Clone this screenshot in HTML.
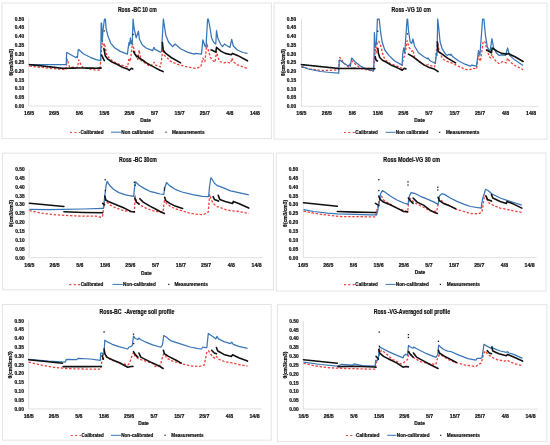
<!DOCTYPE html>
<html><head><meta charset="utf-8"><style>
html,body{margin:0;padding:0;background:#fff;width:550px;height:445px;overflow:hidden}
svg{display:block}
text{font-family:"Liberation Sans", sans-serif;font-weight:bold;fill:#111;stroke:#111;stroke-width:0.22px}
</style></head><body>
<svg width="550" height="445" viewBox="0 0 550 445">
<rect width="550" height="445" fill="#fff"/>
<rect x="2" y="3" width="269.4" height="135.6" fill="#fff" stroke="#e4e4e4" stroke-width="1"/>
<line x1="28.7" y1="18.7" x2="28.7" y2="106" stroke="#e0e0e0" stroke-width="1"/>
<line x1="28.7" y1="106" x2="262" y2="106" stroke="#e0e0e0" stroke-width="1"/>
<polyline points="29.4,66 40,67.3 50,68.3 60,69.2 66,69.7 66.8,62 67.4,59.3 69.5,67 75,67.6 77.5,67.5 78.8,60 81,65 83,67.6 90,69 96,70.3 100,70 101,55 102,43.3 103.5,46 104.5,43.3 106.8,55.4 112.2,60.8 120.3,64.9 127.7,66.9 129,58 130,61.5 131,56 132.4,43.3 135,52.5 137.8,59.5 139.1,50 141,60.5 149.9,66.2 153,64 154,62.2 155,64.9 160.4,66.9 161.5,60 163.1,47.4 164.4,55.4 167,57.5 169.8,60.8 174,62.8 179.3,64.9 187.4,66.9 195.4,68.3 200.8,66.9 202.9,58.1 204.9,61.5 206.9,43.3 208.2,50 210.3,56.8 211.7,59.5 215.1,62.2 216.5,51.4 217.8,56.8 219.8,61.5 223.9,62.9 226.5,62.2 230.6,62.9 232,58.1 233.3,61.5 237.4,64.9 246.8,68.3" fill="none" stroke="#f0413c" stroke-width="1.3" stroke-dasharray="2.4 1.7" stroke-linejoin="round"/>
<polyline points="29.4,64.6 45,64.7 66.2,64.6 66.6,52.7 67,52.5 70,54.3 75.7,57.5 76.6,56.6 77.4,57.6 78.2,49.7 78.6,49.5 83.3,53.8 90.2,57.3 96,59.6 100.7,60.6 101.2,23.1 101.6,23.1 102.3,42 103,30 104.5,19 105.4,19 106.1,28.5 108.1,36.6 110.8,43.3 114.9,48 120.3,51.4 127.4,54.1 128.1,48.7 129,42.6 129.6,45 130.4,37.9 130.9,43.3 131.7,40.6 132.2,44.7 133.1,19 134.1,28.5 136.2,37.9 138.4,31.2 139.5,39.3 142.2,44.7 146,48 152.6,50.7 154,47.3 155,49.4 160.4,52.1 161.5,51.5 162,42 163.4,19 164.4,25.8 165.8,35.2 168.5,42 172.5,46.7 175.2,44 176.5,45.3 180.6,48.7 187.4,52.1 194.1,54.1 195.5,53.4 201.5,54.1 202.9,39.9 204.9,46 206,47 207.6,19 208.3,19 209.6,25.5 211.6,37.9 213.8,42.6 215.8,44 216.5,30.5 217.8,37.9 220.5,44 222.5,46.7 224.5,44 226.5,45.5 230,47.4 231.7,39.3 233.3,46 237.4,50 242.8,52.5 247.5,53.4" fill="none" stroke="#3875b6" stroke-width="1.25" stroke-linejoin="round"/>
<polyline points="29.4,64.6 45,66.3 62.5,68.3 80,68 96,68.2 101.2,68.1" fill="none" stroke="#111" stroke-width="1.6" stroke-linejoin="round" stroke-linecap="round" stroke-dasharray="0.9 0.5"/>
<polyline points="101.6,55.2 104.3,60.6" fill="none" stroke="#111" stroke-width="1.6" stroke-linejoin="round" stroke-linecap="round"/>
<polyline points="103.9,48.5 104.6,52 105.2,55.7 107.5,58.8 112,62 118,64.7 123,67.6 127.4,68.9 129.4,70.3 131.4,68.3 132.8,68.9" fill="none" stroke="#111" stroke-width="1.6" stroke-linejoin="round" stroke-linecap="round"/>
<polyline points="133.5,51.4 134.8,54.1 136.8,56.8 137.8,56 139,58 143.2,60.5 146,62.6 149.9,64.9 155,67.6 160,70.3 163.1,71.6" fill="none" stroke="#111" stroke-width="1.6" stroke-linejoin="round" stroke-linecap="round"/>
<polyline points="162.4,42.6 163.1,50 165.8,53.4 171.2,57.5 180.6,62.9" fill="none" stroke="#111" stroke-width="1.6" stroke-linejoin="round" stroke-linecap="round"/>
<polyline points="211,50 211.7,50 215.8,52.1 216.5,47.4 221.2,51.4 225.2,53.4 231.3,54.8 232.6,53.4 237.4,55.4 247.5,60.8" fill="none" stroke="#111" stroke-width="1.6" stroke-linejoin="round" stroke-linecap="round"/>
<rect x="103.55" y="30.25" width="1.3" height="1.3" fill="#111"/>
<rect x="132.45" y="33.85" width="1.3" height="1.3" fill="#111"/>
<line x1="70" y1="132.4" x2="80" y2="132.4" stroke="#f0413c" stroke-width="1.05" stroke-dasharray="2 2.4"/>
<line x1="111" y1="132.2" x2="121" y2="132.2" stroke="#3875b6" stroke-width="1"/>
<rect x="165.4" y="131.6" width="1.2" height="1.2" fill="#111"/>
<rect x="274.1" y="3" width="273" height="136.1" fill="#fff" stroke="#e4e4e4" stroke-width="1"/>
<line x1="301.5" y1="18.7" x2="301.5" y2="106.3" stroke="#e0e0e0" stroke-width="1"/>
<line x1="301.5" y1="106.3" x2="538.4" y2="106.3" stroke="#e0e0e0" stroke-width="1"/>
<polyline points="301.4,67 310,68.8 320.7,70.4 330,70.3 338.7,69.7 339.5,58 339.8,57.3 344.2,63.5 348.4,67 351.8,60.7 355.3,64 360.8,68.3 369.1,70.4 373.2,71.1 374.5,60 375.1,46 376.1,53 377.4,42 378.8,41.3 380.8,46 382.8,54.1 384.8,59.5 390.2,63.5 397,66.2 401.7,68.2 403.4,58.1 404.8,55.5 407.1,40.6 409.1,47.3 411.8,51.4 412.9,50 414.5,56.8 418.5,61.5 423.9,64.9 428,64.9 430,65.5 434.7,66.9 437.4,41.3 438.8,48.7 440.8,55.4 443.5,59.5 447.5,61.5 450.2,62.2 454.3,64.2 459.6,66.9 466.4,69.6 470.4,69.6 472.5,68.2 476.5,68.9 478.5,55.4 480.5,61.5 483.2,41.3 485.3,42 486.6,48.7 489.3,56.8 490.8,58.1 491.9,54.1 493.5,58.1 496.2,61.5 498.9,63.5 502.9,61.5 506.3,62.9 507.6,58.1 509.6,61.5 515,65.5 523.1,69.6" fill="none" stroke="#f0413c" stroke-width="1.3" stroke-dasharray="2.4 1.7" stroke-linejoin="round"/>
<polyline points="301.4,66.3 308.3,69 320.7,71.5 330.4,72.5 338.7,73.2 339.2,60.5 339.8,60 344.2,63.5 348.4,66 349.2,65 350.4,66.3 351.5,58.5 351.8,58 355.3,62.1 360.8,66.3 366.3,69 373.2,70.8 373.8,70.3 374.4,32.5 375.4,47.3 376.5,42.5 377.4,19 379.2,19 380.5,31.2 382.1,42 384.8,50 388.9,55.4 394.3,60.8 402.1,65.1 402.7,54.1 403.7,48 404.7,53 407.1,19 407.6,19 408.4,29.8 410.2,42 411.8,43.3 412.9,39 414.5,46 418.5,52.7 423.9,56.8 427.3,58.8 428,57.9 430,60.8 435.4,63.5 436.5,52.7 437,55.4 437.7,19 438.8,28.5 440.1,42 442.1,48.7 445.5,54.1 447.5,55.4 448.9,54.1 450.2,55.4 450.9,54.1 452.9,56.8 458.3,60.8 465,64.2 470.4,66.2 471.8,65.1 476.5,66.2 478.5,50.7 479.9,55.4 482.6,19 483.9,19 485.4,35.2 487.4,47.3 490.1,51.4 491.9,38.6 493.5,47.3 496.2,52.7 498.9,55.4 501.6,54.8 505.6,55.4 507.6,48 509.6,55.4 515,60.1 523.1,65.5" fill="none" stroke="#3875b6" stroke-width="1.25" stroke-linejoin="round"/>
<polyline points="301.4,64.6 338.7,68.5 355,68.4 375.2,68.7" fill="none" stroke="#111" stroke-width="1.6" stroke-linejoin="round" stroke-linecap="round" stroke-dasharray="0.9 0.5"/>
<polyline points="375.2,56.6 376,60 377.4,61" fill="none" stroke="#111" stroke-width="1.6" stroke-linejoin="round" stroke-linecap="round"/>
<polyline points="377.9,48.5 378.3,53 379.7,57.5 382.4,60.2 386,62 392,65.6 397,67.6 402.3,70.3 404.4,68.2 406,69" fill="none" stroke="#111" stroke-width="1.6" stroke-linejoin="round" stroke-linecap="round"/>
<polyline points="408.4,54.1 413.1,56.8 418.5,60.8 423.9,64.9 429.3,67.6 434,68.9 438.1,71.6" fill="none" stroke="#111" stroke-width="1.6" stroke-linejoin="round" stroke-linecap="round"/>
<polyline points="437.4,42 438.1,51.4 442.1,54.1 447.5,58.1 455.6,62.9" fill="none" stroke="#111" stroke-width="1.6" stroke-linejoin="round" stroke-linecap="round"/>
<polyline points="486.6,50 491.5,52.7 492.1,48 497.5,51.4 501.6,53.4 507,54.1 508,53.6 515,56.8 523.1,61.5" fill="none" stroke="#111" stroke-width="1.6" stroke-linejoin="round" stroke-linecap="round"/>
<rect x="377.15" y="30.55" width="1.3" height="1.3" fill="#111"/>
<rect x="406.85" y="33.25" width="1.3" height="1.3" fill="#111"/>
<line x1="343.9" y1="132.5" x2="354.7" y2="132.5" stroke="#f0413c" stroke-width="1.05" stroke-dasharray="2 2.4"/>
<line x1="385.6" y1="132.3" x2="395.5" y2="132.3" stroke="#3875b6" stroke-width="1"/>
<rect x="439.1" y="131.7" width="1.2" height="1.2" fill="#111"/>
<rect x="2.5" y="153.2" width="270.9" height="136.6" fill="#fff" stroke="#e4e4e4" stroke-width="1"/>
<line x1="29.1" y1="169.2" x2="29.1" y2="257.6" stroke="#e0e0e0" stroke-width="1"/>
<line x1="29.1" y1="257.6" x2="262.7" y2="257.6" stroke="#e0e0e0" stroke-width="1"/>
<polyline points="29.4,210.7 41.8,213.2 55.6,214.8 69.5,215.6 83.3,216.2 96,216.2 101.2,217.3 102.5,216.5 104,205 105.2,197.3 106,201 109.5,204.8 116.2,208.1 123,210.4 129.7,211.5 134.4,211.9 135.1,196 136.5,201 140.5,205.4 145.9,208.1 152.6,210.6 160,212.2 163,212.2 164.4,200.7 166.5,203.4 169.8,206.1 175.2,208.8 182,210.8 188.7,212.8 195.4,214.2 203.5,214.6 208.2,212.2 209.7,194.6 211,198.5 213.1,203.4 217.1,206.8 218.5,206.8 225.2,209.5 232,210.8 238.7,211.5 248.8,213.5" fill="none" stroke="#f0413c" stroke-width="1.3" stroke-dasharray="2.4 1.7" stroke-linejoin="round"/>
<polyline points="29.4,209.3 48.7,209.6 62.5,209.4 83.3,209 102.6,208.4 103.4,208.4 104.8,196 106,186 107.1,181.4 109.5,185.2 113.5,189.3 118.9,192.6 125.6,194.9 133.7,196.3 134.5,188 135.4,181.8 139.1,185.2 144.5,188.6 149.9,191.3 155,192.6 160,194 163.8,194.4 164.7,188 166.5,182.5 169.8,185.9 175.2,189.3 182,192 192.7,194.6 202.2,196.3 208.6,196.7 209.5,187 210.8,177.8 212,179 214.4,183.2 217.8,185.9 219.8,186.3 225.2,188.6 230.6,190.9 238.7,192.6 248.8,194.9" fill="none" stroke="#3875b6" stroke-width="1.25" stroke-linejoin="round"/>
<polyline points="29.4,203.2 63.9,206.5" fill="none" stroke="#111" stroke-width="1.6" stroke-linejoin="round" stroke-linecap="round"/>
<polyline points="63.9,211.8 83.3,212.5 102.7,212.8" fill="none" stroke="#111" stroke-width="1.6" stroke-linejoin="round" stroke-linecap="round"/>
<polyline points="102.7,203.4 104.5,205" fill="none" stroke="#111" stroke-width="1.6" stroke-linejoin="round" stroke-linecap="round"/>
<polyline points="104.8,196 105.7,200 109.5,202.1 116.2,204.8 123,207.5 128.3,210.1 131,211.5 134.4,211.9" fill="none" stroke="#111" stroke-width="1.6" stroke-linejoin="round" stroke-linecap="round"/>
<polyline points="134.8,198 136.4,202.1 139.1,204.1" fill="none" stroke="#111" stroke-width="1.6" stroke-linejoin="round" stroke-linecap="round"/>
<polyline points="139.8,198.7 143.2,202.1 149.9,206.1 155,208.8 160,211.5 164.4,213.5" fill="none" stroke="#111" stroke-width="1.6" stroke-linejoin="round" stroke-linecap="round"/>
<polyline points="164.7,197.3 165.8,200.7 169.8,203.4 175.2,206.1 182.6,208.4" fill="none" stroke="#111" stroke-width="1.6" stroke-linejoin="round" stroke-linecap="round"/>
<polyline points="213.1,196.7 214.4,199.4 218.5,201.1" fill="none" stroke="#111" stroke-width="1.6" stroke-linejoin="round" stroke-linecap="round"/>
<polyline points="218.2,195.3 219.8,199.4 225.2,201.4 232.6,203.4 233.3,201.4 238.7,203.4 248.8,208.1" fill="none" stroke="#111" stroke-width="1.6" stroke-linejoin="round" stroke-linecap="round"/>
<rect x="104.55" y="179.15" width="1.3" height="1.3" fill="#111"/>
<rect x="104.75" y="189.95" width="1.3" height="1.3" fill="#111"/>
<rect x="133.75" y="181.65" width="1.3" height="1.3" fill="#111"/>
<rect x="134.45" y="184.55" width="1.3" height="1.3" fill="#111"/>
<rect x="163.85" y="187.35" width="1.3" height="1.3" fill="#111"/>
<rect x="163.85" y="189.35" width="1.3" height="1.3" fill="#111"/>
<line x1="69.3" y1="284.6" x2="80.1" y2="284.6" stroke="#f0413c" stroke-width="1.05" stroke-dasharray="2 2.4"/>
<line x1="112.5" y1="284.4" x2="122.8" y2="284.4" stroke="#3875b6" stroke-width="1"/>
<rect x="168.2" y="283.8" width="1.2" height="1.2" fill="#111"/>
<rect x="276.3" y="153" width="269.8" height="138" fill="#fff" stroke="#e4e4e4" stroke-width="1"/>
<line x1="303.3" y1="169.2" x2="303.3" y2="257.6" stroke="#e0e0e0" stroke-width="1"/>
<line x1="303.3" y1="257.6" x2="536.7" y2="257.6" stroke="#e0e0e0" stroke-width="1"/>
<polyline points="303.5,211.1 313.8,213.2 327.6,215.2 341.5,216.6 355.3,216.6 370,216.9 375.4,216.9 378.1,205.4 380.1,196.7 381.5,196 383.5,200 390.2,204.1 397,208.1 407.7,211.5 409.1,198 410.4,198.7 414.5,202.7 423.9,207.5 430,210.8 436.7,211.5 438.8,200.7 440.8,200 443.5,202.7 450.2,206.1 457,209.5 463.7,211.5 470.4,213.5 478.5,213.8 481.9,212.2 484.6,195.3 485.1,195.3 486.6,198.7 489.4,203.4 493.5,205.4 500.2,208.1 507,209.5 513.7,210.8 521.8,212.4" fill="none" stroke="#f0413c" stroke-width="1.3" stroke-dasharray="2.4 1.7" stroke-linejoin="round"/>
<polyline points="303.5,209.7 313.8,211.5 327.6,213.2 337.3,213.9 355.3,214.3 370,214.9 376.7,214.9 378.8,205.4 380.5,194 382.4,190.6 384.8,192 390.2,196 397,200 403.7,203 408,204.4 409.4,196 411.1,192.6 414.5,193.3 421.2,196.7 428,199.4 434,202.1 438.1,204.4 439.5,196 442.1,193.6 444.8,194.6 450.2,198 457,201.4 463.7,204.1 470.4,206.5 481.2,208.1 482.5,199 483.9,194.6 485.6,189.3 488,190.5 492.1,194 500.2,198 507,200.3 513.7,202.5 521.8,205.2" fill="none" stroke="#3875b6" stroke-width="1.25" stroke-linejoin="round"/>
<polyline points="303.5,202.8 337.3,206.3" fill="none" stroke="#111" stroke-width="1.6" stroke-linejoin="round" stroke-linecap="round"/>
<polyline points="337.3,211.5 355.3,212.1 374.6,212.5 376.1,212.4" fill="none" stroke="#111" stroke-width="1.6" stroke-linejoin="round" stroke-linecap="round"/>
<polyline points="375.4,203.4 378.8,205.4" fill="none" stroke="#111" stroke-width="1.6" stroke-linejoin="round" stroke-linecap="round"/>
<polyline points="378.8,196 380.1,199.4 383.5,202.1 390.2,204.8 397,208.1 403.7,211.5 407.7,211.9" fill="none" stroke="#111" stroke-width="1.6" stroke-linejoin="round" stroke-linecap="round"/>
<polyline points="408.4,198 410.4,200.7 413.1,203.4" fill="none" stroke="#111" stroke-width="1.6" stroke-linejoin="round" stroke-linecap="round"/>
<polyline points="413.1,198 417.2,202.1 423.9,205.4 430,210.1 434,212.2 437.4,213.5" fill="none" stroke="#111" stroke-width="1.6" stroke-linejoin="round" stroke-linecap="round"/>
<polyline points="438.1,197.3 439.4,200.7 443.5,203.4 450.2,206.1 455.6,208.8" fill="none" stroke="#111" stroke-width="1.6" stroke-linejoin="round" stroke-linecap="round"/>
<polyline points="486.1,196 487.4,199.4 491.5,201.1" fill="none" stroke="#111" stroke-width="1.6" stroke-linejoin="round" stroke-linecap="round"/>
<polyline points="491.5,194.6 492.8,198 500.2,201.4 506.3,203.4 507,201.4 513.7,204.1 521.8,208.1" fill="none" stroke="#111" stroke-width="1.6" stroke-linejoin="round" stroke-linecap="round"/>
<rect x="378.15" y="178.95" width="1.3" height="1.3" fill="#111"/>
<rect x="378.15" y="189.95" width="1.3" height="1.3" fill="#111"/>
<rect x="407.35" y="181.15" width="1.3" height="1.3" fill="#111"/>
<rect x="407.35" y="184.35" width="1.3" height="1.3" fill="#111"/>
<rect x="437.15" y="186.55" width="1.3" height="1.3" fill="#111"/>
<rect x="437.15" y="189.25" width="1.3" height="1.3" fill="#111"/>
<line x1="343.9" y1="284.6" x2="354.7" y2="284.6" stroke="#f0413c" stroke-width="1.05" stroke-dasharray="2 2.4"/>
<line x1="385.6" y1="284.4" x2="395.5" y2="284.4" stroke="#3875b6" stroke-width="1"/>
<rect x="439.8" y="283.8" width="1.2" height="1.2" fill="#111"/>
<rect x="2.5" y="304.5" width="268.7" height="135.7" fill="#fff" stroke="#e4e4e4" stroke-width="1"/>
<line x1="28.6" y1="320.6" x2="28.6" y2="408.9" stroke="#e0e0e0" stroke-width="1"/>
<line x1="28.6" y1="408.9" x2="261.6" y2="408.9" stroke="#e0e0e0" stroke-width="1"/>
<polyline points="28.7,362.1 41.8,365.2 55.6,367.6 69.5,368.7 83.3,369 96,369.2 100.7,369.2 102.1,360.4 104.1,351.7 106.1,355.7 109.5,359.1 116.2,361.8 123,363.8 127.7,365.1 129.7,363.1 132.4,354.4 133.7,352.3 135.1,356.4 139.1,359.1 147.2,361.8 152.6,363.1 155,366.5 160.4,365.1 163.1,355 164.4,353.7 167.1,358.4 172.5,361.1 182,363.8 190,365.8 199.5,366.5 204.2,365.1 206.9,351.7 208.4,350.7 210.4,353.7 213.1,357.1 215.1,358.4 216.5,356.4 218.5,359.1 225.2,361.8 232,362.9 238.7,364.5 247.5,366.1" fill="none" stroke="#f0413c" stroke-width="1.3" stroke-dasharray="2.4 1.7" stroke-linejoin="round"/>
<polyline points="28.7,359.3 48.7,361.1 65.3,362.1 66.4,359.3 76.4,359.7 78.4,358.3 90.2,359 100.3,360.4 100.7,353 102.5,353 103,355 104,353.7 104.8,340.2 106.8,341.6 112.2,344.3 118.9,346.7 127.7,349 129,347 131.3,346.3 132.4,345 133.5,336.2 135,338.2 137.8,339.5 138.9,338.2 140.5,339.5 145.9,342.2 152.6,344.9 160,347 161.1,347 162.4,345 163.8,335.5 165.8,336.8 171.2,340.9 176.6,342.6 182,344.3 190,347 198.1,348.6 201.5,349 202.8,347 205.5,347.6 206.8,347.6 208.3,333.5 209.7,334.5 213.1,336.8 215.8,338.9 216.9,336.4 218.5,338.9 223.9,341.6 230.6,343.6 231.7,342.2 233.3,344.3 238.7,346.3 247.5,348.3" fill="none" stroke="#3875b6" stroke-width="1.25" stroke-linejoin="round"/>
<polyline points="28.7,359.7 62.5,363.2" fill="none" stroke="#111" stroke-width="1.6" stroke-linejoin="round" stroke-linecap="round"/>
<polyline points="63.2,366.6 83.3,366.6 101.4,366.5" fill="none" stroke="#111" stroke-width="1.6" stroke-linejoin="round" stroke-linecap="round"/>
<polyline points="102.1,355.7 103.4,359.1" fill="none" stroke="#111" stroke-width="1.6" stroke-linejoin="round" stroke-linecap="round"/>
<polyline points="104.1,349 104.8,353.7 106.8,357.1 112.2,359.8 118.9,362.5 127.7,367.2 131,366.5 133,366.5" fill="none" stroke="#111" stroke-width="1.6" stroke-linejoin="round" stroke-linecap="round"/>
<polyline points="133.5,351.7 135.1,354.4 137.8,357.1" fill="none" stroke="#111" stroke-width="1.6" stroke-linejoin="round" stroke-linecap="round"/>
<polyline points="138.9,353 140.8,357.1 147.2,360.4 152.6,363.1 160,366.5 163.1,368.5" fill="none" stroke="#111" stroke-width="1.6" stroke-linejoin="round" stroke-linecap="round"/>
<polyline points="163.4,350.3 164.4,353.7 168.5,356.4 175.2,359.8 181.3,363.1" fill="none" stroke="#111" stroke-width="1.6" stroke-linejoin="round" stroke-linecap="round"/>
<polyline points="211.6,350.3 214.3,353 216.5,353.7" fill="none" stroke="#111" stroke-width="1.6" stroke-linejoin="round" stroke-linecap="round"/>
<polyline points="216.4,347.6 217.8,351 223.9,354.4 231.3,356.4 232.6,354.8 238.7,357.7 247.5,361.1" fill="none" stroke="#111" stroke-width="1.6" stroke-linejoin="round" stroke-linecap="round"/>
<rect x="103.45" y="331.25" width="1.3" height="1.3" fill="#111"/>
<rect x="132.85" y="333.55" width="1.3" height="1.3" fill="#111"/>
<rect x="133.05" y="342.95" width="1.3" height="1.3" fill="#111"/>
<line x1="70.8" y1="435.5" x2="81" y2="435.5" stroke="#f0413c" stroke-width="1.05" stroke-dasharray="2 2.4"/>
<line x1="111" y1="435.3" x2="120.9" y2="435.3" stroke="#3875b6" stroke-width="1"/>
<rect x="164.5" y="434.7" width="1.2" height="1.2" fill="#111"/>
<rect x="277.4" y="304.7" width="269.4" height="136.7" fill="#fff" stroke="#e4e4e4" stroke-width="1"/>
<line x1="303.3" y1="320.9" x2="303.3" y2="409.1" stroke="#e0e0e0" stroke-width="1"/>
<line x1="303.3" y1="409.1" x2="537.9" y2="409.1" stroke="#e0e0e0" stroke-width="1"/>
<polyline points="303.5,363.2 313.8,365.7 327.6,367.6 341.5,368.4 355.3,368.7 370,369.2 375.1,369.2 376.1,363.1 377.4,360.4 379.5,355.3 381.3,350.2 383.5,351.6 386.4,353.8 389.3,356.7 392.9,359.6 397.3,361.8 400.9,364 403.1,363.3 405.3,361.1 407.5,359.6 408.2,356 408.9,351.6 410.4,354.4 414.5,358.4 421.2,361.8 426.6,363.1 434,364.3 435.9,364.5 436.6,360.9 438.2,357 439.4,354.6 442.1,355.6 447.6,359.2 451.6,361.1 457.1,362.7 465,365.1 475.8,366.5 478.5,364.5 481.2,363.1 483.9,353 485.4,351 487.9,354.4 490.8,356.4 493.5,358.1 497.5,359.8 504.3,361.1 507.6,360.2 509.6,361.8 515,363.8 522.5,365.8" fill="none" stroke="#f0413c" stroke-width="1.3" stroke-dasharray="2.4 1.7" stroke-linejoin="round"/>
<polyline points="303.5,362.2 320.7,364.5 337.3,366.2 341.5,364.3 352.5,365.2 353.9,363.9 362.2,365.7 374.6,366.2 375.1,366.5 375.7,360.4 377.5,360.4 378.2,359 379.5,348 380.2,347.3 388.5,351.6 395.8,354.9 403.1,357.8 403.8,355.6 406,354.2 407.5,355.3 408.5,345.5 410.4,347 412.9,348.3 413.8,347 415.8,348.3 421.2,351 426.6,353.7 435.9,357.4 437.8,354.6 438.6,345.2 440,346.5 443.7,349.5 447.6,351.1 450.8,351.5 459.4,355.4 468,358.6 475.8,360.2 477.2,358.4 480.5,358.4 482,357.7 484,344.3 486,345.6 490.8,348.3 491.9,346.3 493.5,348.3 500.2,351 506.3,352.3 507.6,351.7 509,353 513.7,354.4 522.5,358.4" fill="none" stroke="#3875b6" stroke-width="1.25" stroke-linejoin="round"/>
<polyline points="303.5,359.7 337.3,363.2" fill="none" stroke="#111" stroke-width="1.6" stroke-linejoin="round" stroke-linecap="round"/>
<polyline points="338,366.6 355.3,366.2 374.6,367 376.1,367.2" fill="none" stroke="#111" stroke-width="1.6" stroke-linejoin="round" stroke-linecap="round"/>
<polyline points="376.1,356.4 378.4,359.1" fill="none" stroke="#111" stroke-width="1.6" stroke-linejoin="round" stroke-linecap="round"/>
<polyline points="378.8,349.6 379.7,353 383.5,356.4 390.2,359.8 397,363.1 403,367.2 405.7,366.5 408.4,366.9" fill="none" stroke="#111" stroke-width="1.6" stroke-linejoin="round" stroke-linecap="round"/>
<polyline points="408.4,351.7 410.4,354.4 413.1,357.1" fill="none" stroke="#111" stroke-width="1.6" stroke-linejoin="round" stroke-linecap="round"/>
<polyline points="413.4,353 416.5,357.1 423.9,361.1 430,364.5 434,366.5 438.1,368.5" fill="none" stroke="#111" stroke-width="1.6" stroke-linejoin="round" stroke-linecap="round"/>
<polyline points="438.4,350.3 439.4,353 443.5,355.7 450.2,359.1 456.3,362.5" fill="none" stroke="#111" stroke-width="1.6" stroke-linejoin="round" stroke-linecap="round"/>
<polyline points="487.3,350.7 489.3,353 491.5,353.7" fill="none" stroke="#111" stroke-width="1.6" stroke-linejoin="round" stroke-linecap="round"/>
<polyline points="491.9,347.6 492.8,351 498.9,353.7 506.3,355.7 507.6,354.4 513.7,357.1 522.5,361.1" fill="none" stroke="#111" stroke-width="1.6" stroke-linejoin="round" stroke-linecap="round"/>
<rect x="378.55" y="331.45" width="1.3" height="1.3" fill="#111"/>
<rect x="407.75" y="333.95" width="1.3" height="1.3" fill="#111"/>
<rect x="407.75" y="336.85" width="1.3" height="1.3" fill="#111"/>
<rect x="378.75" y="345.65" width="1.3" height="1.3" fill="#111"/>
<rect x="437.75" y="340.65" width="1.3" height="1.3" fill="#111"/>
<line x1="346" y1="435.5" x2="355.3" y2="435.5" stroke="#f0413c" stroke-width="1.05" stroke-dasharray="2 2.4"/>
<line x1="387.2" y1="435.3" x2="396.5" y2="435.3" stroke="#3875b6" stroke-width="1"/>
<rect x="440.1" y="434.7" width="1.2" height="1.2" fill="#111"/>
<g style="filter:grayscale(1)">
<text x="117.9" y="11.6" font-size="6.5" text-anchor="start" textLength="38.8" lengthAdjust="spacingAndGlyphs">Ross -BC 10 cm</text>
<text x="24.2" y="107.9" font-size="5.4" text-anchor="end" textLength="9.4" lengthAdjust="spacingAndGlyphs">0.00</text>
<text x="24.2" y="99.17" font-size="5.4" text-anchor="end" textLength="9.4" lengthAdjust="spacingAndGlyphs">0.05</text>
<text x="24.2" y="90.44" font-size="5.4" text-anchor="end" textLength="9.4" lengthAdjust="spacingAndGlyphs">0.10</text>
<text x="24.2" y="81.71" font-size="5.4" text-anchor="end" textLength="9.4" lengthAdjust="spacingAndGlyphs">0.15</text>
<text x="24.2" y="72.98" font-size="5.4" text-anchor="end" textLength="9.4" lengthAdjust="spacingAndGlyphs">0.20</text>
<text x="24.2" y="64.25" font-size="5.4" text-anchor="end" textLength="9.4" lengthAdjust="spacingAndGlyphs">0.25</text>
<text x="24.2" y="55.52" font-size="5.4" text-anchor="end" textLength="9.4" lengthAdjust="spacingAndGlyphs">0.30</text>
<text x="24.2" y="46.79" font-size="5.4" text-anchor="end" textLength="9.4" lengthAdjust="spacingAndGlyphs">0.35</text>
<text x="24.2" y="38.06" font-size="5.4" text-anchor="end" textLength="9.4" lengthAdjust="spacingAndGlyphs">0.40</text>
<text x="24.2" y="29.33" font-size="5.4" text-anchor="end" textLength="9.4" lengthAdjust="spacingAndGlyphs">0.45</text>
<text x="24.2" y="20.6" font-size="5.4" text-anchor="end" textLength="9.4" lengthAdjust="spacingAndGlyphs">0.50</text>
<text x="29.05" y="114.9" font-size="5.4" text-anchor="middle" textLength="10.1" lengthAdjust="spacingAndGlyphs">16/5</text>
<text x="54.15" y="114.9" font-size="5.4" text-anchor="middle" textLength="10.1" lengthAdjust="spacingAndGlyphs">26/5</text>
<text x="79.25" y="114.9" font-size="5.4" text-anchor="middle" textLength="7.2" lengthAdjust="spacingAndGlyphs">5/6</text>
<text x="104.35" y="114.9" font-size="5.4" text-anchor="middle" textLength="10.1" lengthAdjust="spacingAndGlyphs">15/6</text>
<text x="129.45" y="114.9" font-size="5.4" text-anchor="middle" textLength="10.1" lengthAdjust="spacingAndGlyphs">25/6</text>
<text x="154.55" y="114.9" font-size="5.4" text-anchor="middle" textLength="7.2" lengthAdjust="spacingAndGlyphs">5/7</text>
<text x="179.65" y="114.9" font-size="5.4" text-anchor="middle" textLength="10.1" lengthAdjust="spacingAndGlyphs">15/7</text>
<text x="204.75" y="114.9" font-size="5.4" text-anchor="middle" textLength="10.1" lengthAdjust="spacingAndGlyphs">25/7</text>
<text x="229.85" y="114.9" font-size="5.4" text-anchor="middle" textLength="7.2" lengthAdjust="spacingAndGlyphs">4/8</text>
<text x="254.95" y="114.9" font-size="5.4" text-anchor="middle" textLength="10.1" lengthAdjust="spacingAndGlyphs">14/8</text>
<text x="145.6" y="121.9" font-size="5.4" text-anchor="middle" textLength="10.6" lengthAdjust="spacingAndGlyphs">Date</text>
<text transform="translate(12.5 62.3) rotate(-90)" font-size="5.2" text-anchor="middle" textLength="27" lengthAdjust="spacingAndGlyphs">θ(cm3/cm3)</text>
<text x="80.6" y="133.8" font-size="5.5" text-anchor="start" textLength="23" lengthAdjust="spacingAndGlyphs">Calibrated</text>
<text x="121.3" y="133.8" font-size="5.5" text-anchor="start" textLength="32.3" lengthAdjust="spacingAndGlyphs">Non calibrated</text>
<text x="172" y="133.8" font-size="5.5" text-anchor="start" textLength="32.5" lengthAdjust="spacingAndGlyphs">Measurements</text>
<text x="391.5" y="11.7" font-size="6.5" text-anchor="start" textLength="39.4" lengthAdjust="spacingAndGlyphs">Ross -VG 10 cm</text>
<text x="296.2" y="108.2" font-size="5.4" text-anchor="end" textLength="9.4" lengthAdjust="spacingAndGlyphs">0.00</text>
<text x="296.2" y="99.44" font-size="5.4" text-anchor="end" textLength="9.4" lengthAdjust="spacingAndGlyphs">0.05</text>
<text x="296.2" y="90.68" font-size="5.4" text-anchor="end" textLength="9.4" lengthAdjust="spacingAndGlyphs">0.10</text>
<text x="296.2" y="81.92" font-size="5.4" text-anchor="end" textLength="9.4" lengthAdjust="spacingAndGlyphs">0.15</text>
<text x="296.2" y="73.16" font-size="5.4" text-anchor="end" textLength="9.4" lengthAdjust="spacingAndGlyphs">0.20</text>
<text x="296.2" y="64.4" font-size="5.4" text-anchor="end" textLength="9.4" lengthAdjust="spacingAndGlyphs">0.25</text>
<text x="296.2" y="55.64" font-size="5.4" text-anchor="end" textLength="9.4" lengthAdjust="spacingAndGlyphs">0.30</text>
<text x="296.2" y="46.88" font-size="5.4" text-anchor="end" textLength="9.4" lengthAdjust="spacingAndGlyphs">0.35</text>
<text x="296.2" y="38.12" font-size="5.4" text-anchor="end" textLength="9.4" lengthAdjust="spacingAndGlyphs">0.40</text>
<text x="296.2" y="29.36" font-size="5.4" text-anchor="end" textLength="9.4" lengthAdjust="spacingAndGlyphs">0.45</text>
<text x="296.2" y="20.6" font-size="5.4" text-anchor="end" textLength="9.4" lengthAdjust="spacingAndGlyphs">0.50</text>
<text x="301.3" y="115" font-size="5.4" text-anchor="middle" textLength="10.1" lengthAdjust="spacingAndGlyphs">16/5</text>
<text x="326.83" y="115" font-size="5.4" text-anchor="middle" textLength="10.1" lengthAdjust="spacingAndGlyphs">26/5</text>
<text x="352.36" y="115" font-size="5.4" text-anchor="middle" textLength="7.2" lengthAdjust="spacingAndGlyphs">5/6</text>
<text x="377.89" y="115" font-size="5.4" text-anchor="middle" textLength="10.1" lengthAdjust="spacingAndGlyphs">15/6</text>
<text x="403.42" y="115" font-size="5.4" text-anchor="middle" textLength="10.1" lengthAdjust="spacingAndGlyphs">25/6</text>
<text x="428.95" y="115" font-size="5.4" text-anchor="middle" textLength="7.2" lengthAdjust="spacingAndGlyphs">5/7</text>
<text x="454.48" y="115" font-size="5.4" text-anchor="middle" textLength="10.1" lengthAdjust="spacingAndGlyphs">15/7</text>
<text x="480.01" y="115" font-size="5.4" text-anchor="middle" textLength="10.1" lengthAdjust="spacingAndGlyphs">25/7</text>
<text x="505.54" y="115" font-size="5.4" text-anchor="middle" textLength="7.2" lengthAdjust="spacingAndGlyphs">4/8</text>
<text x="531.07" y="115" font-size="5.4" text-anchor="middle" textLength="10.1" lengthAdjust="spacingAndGlyphs">14/8</text>
<text x="419.6" y="122" font-size="5.4" text-anchor="middle" textLength="10.6" lengthAdjust="spacingAndGlyphs">Date</text>
<text transform="translate(285.3 62.5) rotate(-90)" font-size="5.2" text-anchor="middle" textLength="27" lengthAdjust="spacingAndGlyphs">θ(cm3/cm3)</text>
<text x="355.3" y="133.9" font-size="5.5" text-anchor="start" textLength="22.6" lengthAdjust="spacingAndGlyphs">Calibrated</text>
<text x="395.8" y="133.9" font-size="5.5" text-anchor="start" textLength="32.5" lengthAdjust="spacingAndGlyphs">Non calibrated</text>
<text x="445.9" y="133.9" font-size="5.5" text-anchor="start" textLength="33.4" lengthAdjust="spacingAndGlyphs">Measurements</text>
<text x="119.1" y="162.2" font-size="6.5" text-anchor="start" textLength="37.8" lengthAdjust="spacingAndGlyphs">Ross -BC 30cm</text>
<text x="24.6" y="259.5" font-size="5.4" text-anchor="end" textLength="9.4" lengthAdjust="spacingAndGlyphs">0.00</text>
<text x="24.6" y="250.66" font-size="5.4" text-anchor="end" textLength="9.4" lengthAdjust="spacingAndGlyphs">0.05</text>
<text x="24.6" y="241.82" font-size="5.4" text-anchor="end" textLength="9.4" lengthAdjust="spacingAndGlyphs">0.10</text>
<text x="24.6" y="232.98" font-size="5.4" text-anchor="end" textLength="9.4" lengthAdjust="spacingAndGlyphs">0.15</text>
<text x="24.6" y="224.14" font-size="5.4" text-anchor="end" textLength="9.4" lengthAdjust="spacingAndGlyphs">0.20</text>
<text x="24.6" y="215.3" font-size="5.4" text-anchor="end" textLength="9.4" lengthAdjust="spacingAndGlyphs">0.25</text>
<text x="24.6" y="206.46" font-size="5.4" text-anchor="end" textLength="9.4" lengthAdjust="spacingAndGlyphs">0.30</text>
<text x="24.6" y="197.62" font-size="5.4" text-anchor="end" textLength="9.4" lengthAdjust="spacingAndGlyphs">0.35</text>
<text x="24.6" y="188.78" font-size="5.4" text-anchor="end" textLength="9.4" lengthAdjust="spacingAndGlyphs">0.40</text>
<text x="24.6" y="179.94" font-size="5.4" text-anchor="end" textLength="9.4" lengthAdjust="spacingAndGlyphs">0.45</text>
<text x="24.6" y="171.1" font-size="5.4" text-anchor="end" textLength="9.4" lengthAdjust="spacingAndGlyphs">0.50</text>
<text x="29.4" y="266.6" font-size="5.4" text-anchor="middle" textLength="10.1" lengthAdjust="spacingAndGlyphs">16/5</text>
<text x="54.64" y="266.6" font-size="5.4" text-anchor="middle" textLength="10.1" lengthAdjust="spacingAndGlyphs">26/5</text>
<text x="79.88" y="266.6" font-size="5.4" text-anchor="middle" textLength="7.2" lengthAdjust="spacingAndGlyphs">5/6</text>
<text x="105.12" y="266.6" font-size="5.4" text-anchor="middle" textLength="10.1" lengthAdjust="spacingAndGlyphs">15/6</text>
<text x="130.36" y="266.6" font-size="5.4" text-anchor="middle" textLength="10.1" lengthAdjust="spacingAndGlyphs">25/6</text>
<text x="155.6" y="266.6" font-size="5.4" text-anchor="middle" textLength="7.2" lengthAdjust="spacingAndGlyphs">5/7</text>
<text x="180.84" y="266.6" font-size="5.4" text-anchor="middle" textLength="10.1" lengthAdjust="spacingAndGlyphs">15/7</text>
<text x="206.08" y="266.6" font-size="5.4" text-anchor="middle" textLength="10.1" lengthAdjust="spacingAndGlyphs">25/7</text>
<text x="231.32" y="266.6" font-size="5.4" text-anchor="middle" textLength="7.2" lengthAdjust="spacingAndGlyphs">4/8</text>
<text x="256.56" y="266.6" font-size="5.4" text-anchor="middle" textLength="10.1" lengthAdjust="spacingAndGlyphs">14/8</text>
<text x="146.3" y="274.5" font-size="5.4" text-anchor="middle" textLength="10.6" lengthAdjust="spacingAndGlyphs">Date</text>
<text transform="translate(12.8 213.4) rotate(-90)" font-size="5.2" text-anchor="middle" textLength="27" lengthAdjust="spacingAndGlyphs">θ(cm3/cm3)</text>
<text x="80.7" y="286" font-size="5.5" text-anchor="start" textLength="22.6" lengthAdjust="spacingAndGlyphs">Calibrated</text>
<text x="123.1" y="286" font-size="5.5" text-anchor="start" textLength="32.7" lengthAdjust="spacingAndGlyphs">Non-calibrated</text>
<text x="174.4" y="286" font-size="5.5" text-anchor="start" textLength="33.4" lengthAdjust="spacingAndGlyphs">Measurements</text>
<text x="383.3" y="161.8" font-size="6.5" text-anchor="start" textLength="56.7" lengthAdjust="spacingAndGlyphs">Ross Model-VG 30 cm</text>
<text x="298.2" y="259.5" font-size="5.4" text-anchor="end" textLength="9.4" lengthAdjust="spacingAndGlyphs">0.00</text>
<text x="298.2" y="250.66" font-size="5.4" text-anchor="end" textLength="9.4" lengthAdjust="spacingAndGlyphs">0.05</text>
<text x="298.2" y="241.82" font-size="5.4" text-anchor="end" textLength="9.4" lengthAdjust="spacingAndGlyphs">0.10</text>
<text x="298.2" y="232.98" font-size="5.4" text-anchor="end" textLength="9.4" lengthAdjust="spacingAndGlyphs">0.15</text>
<text x="298.2" y="224.14" font-size="5.4" text-anchor="end" textLength="9.4" lengthAdjust="spacingAndGlyphs">0.20</text>
<text x="298.2" y="215.3" font-size="5.4" text-anchor="end" textLength="9.4" lengthAdjust="spacingAndGlyphs">0.25</text>
<text x="298.2" y="206.46" font-size="5.4" text-anchor="end" textLength="9.4" lengthAdjust="spacingAndGlyphs">0.30</text>
<text x="298.2" y="197.62" font-size="5.4" text-anchor="end" textLength="9.4" lengthAdjust="spacingAndGlyphs">0.35</text>
<text x="298.2" y="188.78" font-size="5.4" text-anchor="end" textLength="9.4" lengthAdjust="spacingAndGlyphs">0.40</text>
<text x="298.2" y="179.94" font-size="5.4" text-anchor="end" textLength="9.4" lengthAdjust="spacingAndGlyphs">0.45</text>
<text x="298.2" y="171.1" font-size="5.4" text-anchor="end" textLength="9.4" lengthAdjust="spacingAndGlyphs">0.50</text>
<text x="303.1" y="267.3" font-size="5.4" text-anchor="middle" textLength="10.1" lengthAdjust="spacingAndGlyphs">16/5</text>
<text x="328.27" y="267.3" font-size="5.4" text-anchor="middle" textLength="10.1" lengthAdjust="spacingAndGlyphs">26/5</text>
<text x="353.44" y="267.3" font-size="5.4" text-anchor="middle" textLength="7.2" lengthAdjust="spacingAndGlyphs">5/6</text>
<text x="378.61" y="267.3" font-size="5.4" text-anchor="middle" textLength="10.1" lengthAdjust="spacingAndGlyphs">15/6</text>
<text x="403.78" y="267.3" font-size="5.4" text-anchor="middle" textLength="10.1" lengthAdjust="spacingAndGlyphs">25/6</text>
<text x="428.95" y="267.3" font-size="5.4" text-anchor="middle" textLength="7.2" lengthAdjust="spacingAndGlyphs">5/7</text>
<text x="454.12" y="267.3" font-size="5.4" text-anchor="middle" textLength="10.1" lengthAdjust="spacingAndGlyphs">15/7</text>
<text x="479.29" y="267.3" font-size="5.4" text-anchor="middle" textLength="10.1" lengthAdjust="spacingAndGlyphs">25/7</text>
<text x="504.46" y="267.3" font-size="5.4" text-anchor="middle" textLength="7.2" lengthAdjust="spacingAndGlyphs">4/8</text>
<text x="529.63" y="267.3" font-size="5.4" text-anchor="middle" textLength="10.1" lengthAdjust="spacingAndGlyphs">14/8</text>
<text x="420" y="274.3" font-size="5.4" text-anchor="middle" textLength="10.6" lengthAdjust="spacingAndGlyphs">Date</text>
<text transform="translate(286.8 213.4) rotate(-90)" font-size="5.2" text-anchor="middle" textLength="27" lengthAdjust="spacingAndGlyphs">θ(cm3/cm3)</text>
<text x="355.3" y="286" font-size="5.5" text-anchor="start" textLength="22.6" lengthAdjust="spacingAndGlyphs">Calibrated</text>
<text x="395.8" y="286" font-size="5.5" text-anchor="start" textLength="33.1" lengthAdjust="spacingAndGlyphs">Non-calibrated</text>
<text x="446.8" y="286" font-size="5.5" text-anchor="start" textLength="33.1" lengthAdjust="spacingAndGlyphs">Measurements</text>
<text x="99.6" y="313.5" font-size="6.5" text-anchor="start" textLength="74.7" lengthAdjust="spacingAndGlyphs">Ross-BC  -Average soil profile</text>
<text x="24" y="410.8" font-size="5.4" text-anchor="end" textLength="9.4" lengthAdjust="spacingAndGlyphs">0.00</text>
<text x="24" y="401.97" font-size="5.4" text-anchor="end" textLength="9.4" lengthAdjust="spacingAndGlyphs">0.05</text>
<text x="24" y="393.14" font-size="5.4" text-anchor="end" textLength="9.4" lengthAdjust="spacingAndGlyphs">0.10</text>
<text x="24" y="384.31" font-size="5.4" text-anchor="end" textLength="9.4" lengthAdjust="spacingAndGlyphs">0.15</text>
<text x="24" y="375.48" font-size="5.4" text-anchor="end" textLength="9.4" lengthAdjust="spacingAndGlyphs">0.20</text>
<text x="24" y="366.65" font-size="5.4" text-anchor="end" textLength="9.4" lengthAdjust="spacingAndGlyphs">0.25</text>
<text x="24" y="357.82" font-size="5.4" text-anchor="end" textLength="9.4" lengthAdjust="spacingAndGlyphs">0.30</text>
<text x="24" y="348.99" font-size="5.4" text-anchor="end" textLength="9.4" lengthAdjust="spacingAndGlyphs">0.35</text>
<text x="24" y="340.16" font-size="5.4" text-anchor="end" textLength="9.4" lengthAdjust="spacingAndGlyphs">0.40</text>
<text x="24" y="331.33" font-size="5.4" text-anchor="end" textLength="9.4" lengthAdjust="spacingAndGlyphs">0.45</text>
<text x="24" y="322.5" font-size="5.4" text-anchor="end" textLength="9.4" lengthAdjust="spacingAndGlyphs">0.50</text>
<text x="28.7" y="418.2" font-size="5.4" text-anchor="middle" textLength="10.1" lengthAdjust="spacingAndGlyphs">16/5</text>
<text x="53.79" y="418.2" font-size="5.4" text-anchor="middle" textLength="10.1" lengthAdjust="spacingAndGlyphs">26/5</text>
<text x="78.88" y="418.2" font-size="5.4" text-anchor="middle" textLength="7.2" lengthAdjust="spacingAndGlyphs">5/6</text>
<text x="103.97" y="418.2" font-size="5.4" text-anchor="middle" textLength="10.1" lengthAdjust="spacingAndGlyphs">15/6</text>
<text x="129.06" y="418.2" font-size="5.4" text-anchor="middle" textLength="10.1" lengthAdjust="spacingAndGlyphs">25/6</text>
<text x="154.15" y="418.2" font-size="5.4" text-anchor="middle" textLength="7.2" lengthAdjust="spacingAndGlyphs">5/7</text>
<text x="179.24" y="418.2" font-size="5.4" text-anchor="middle" textLength="10.1" lengthAdjust="spacingAndGlyphs">15/7</text>
<text x="204.33" y="418.2" font-size="5.4" text-anchor="middle" textLength="10.1" lengthAdjust="spacingAndGlyphs">25/7</text>
<text x="229.42" y="418.2" font-size="5.4" text-anchor="middle" textLength="7.2" lengthAdjust="spacingAndGlyphs">4/8</text>
<text x="254.51" y="418.2" font-size="5.4" text-anchor="middle" textLength="10.1" lengthAdjust="spacingAndGlyphs">14/8</text>
<text x="143.5" y="425.3" font-size="5.4" text-anchor="middle" textLength="10.6" lengthAdjust="spacingAndGlyphs">Date</text>
<text transform="translate(11.8 364.9) rotate(-90)" font-size="5.2" text-anchor="middle" textLength="27" lengthAdjust="spacingAndGlyphs">θ(cm3/cm3)</text>
<text x="81.6" y="436.9" font-size="5.5" text-anchor="start" textLength="22.3" lengthAdjust="spacingAndGlyphs">Calibrated</text>
<text x="121.2" y="436.9" font-size="5.5" text-anchor="start" textLength="32.2" lengthAdjust="spacingAndGlyphs">Non-calibrated</text>
<text x="171.3" y="436.9" font-size="5.5" text-anchor="start" textLength="32.4" lengthAdjust="spacingAndGlyphs">Measurements</text>
<text x="373.7" y="313.8" font-size="6.5" text-anchor="start" textLength="76.4" lengthAdjust="spacingAndGlyphs">Ross -VG-Averaged soil profile</text>
<text x="298.7" y="411" font-size="5.4" text-anchor="end" textLength="9.4" lengthAdjust="spacingAndGlyphs">0.00</text>
<text x="298.7" y="402.18" font-size="5.4" text-anchor="end" textLength="9.4" lengthAdjust="spacingAndGlyphs">0.05</text>
<text x="298.7" y="393.36" font-size="5.4" text-anchor="end" textLength="9.4" lengthAdjust="spacingAndGlyphs">0.10</text>
<text x="298.7" y="384.54" font-size="5.4" text-anchor="end" textLength="9.4" lengthAdjust="spacingAndGlyphs">0.15</text>
<text x="298.7" y="375.72" font-size="5.4" text-anchor="end" textLength="9.4" lengthAdjust="spacingAndGlyphs">0.20</text>
<text x="298.7" y="366.9" font-size="5.4" text-anchor="end" textLength="9.4" lengthAdjust="spacingAndGlyphs">0.25</text>
<text x="298.7" y="358.08" font-size="5.4" text-anchor="end" textLength="9.4" lengthAdjust="spacingAndGlyphs">0.30</text>
<text x="298.7" y="349.26" font-size="5.4" text-anchor="end" textLength="9.4" lengthAdjust="spacingAndGlyphs">0.35</text>
<text x="298.7" y="340.44" font-size="5.4" text-anchor="end" textLength="9.4" lengthAdjust="spacingAndGlyphs">0.40</text>
<text x="298.7" y="331.62" font-size="5.4" text-anchor="end" textLength="9.4" lengthAdjust="spacingAndGlyphs">0.45</text>
<text x="298.7" y="322.8" font-size="5.4" text-anchor="end" textLength="9.4" lengthAdjust="spacingAndGlyphs">0.50</text>
<text x="303.5" y="418.2" font-size="5.4" text-anchor="middle" textLength="10.1" lengthAdjust="spacingAndGlyphs">16/5</text>
<text x="328.72" y="418.2" font-size="5.4" text-anchor="middle" textLength="10.1" lengthAdjust="spacingAndGlyphs">26/5</text>
<text x="353.94" y="418.2" font-size="5.4" text-anchor="middle" textLength="7.2" lengthAdjust="spacingAndGlyphs">5/6</text>
<text x="379.16" y="418.2" font-size="5.4" text-anchor="middle" textLength="10.1" lengthAdjust="spacingAndGlyphs">15/6</text>
<text x="404.38" y="418.2" font-size="5.4" text-anchor="middle" textLength="10.1" lengthAdjust="spacingAndGlyphs">25/6</text>
<text x="429.6" y="418.2" font-size="5.4" text-anchor="middle" textLength="7.2" lengthAdjust="spacingAndGlyphs">5/7</text>
<text x="454.82" y="418.2" font-size="5.4" text-anchor="middle" textLength="10.1" lengthAdjust="spacingAndGlyphs">15/7</text>
<text x="480.04" y="418.2" font-size="5.4" text-anchor="middle" textLength="10.1" lengthAdjust="spacingAndGlyphs">25/7</text>
<text x="505.26" y="418.2" font-size="5.4" text-anchor="middle" textLength="7.2" lengthAdjust="spacingAndGlyphs">4/8</text>
<text x="530.48" y="418.2" font-size="5.4" text-anchor="middle" textLength="10.1" lengthAdjust="spacingAndGlyphs">14/8</text>
<text x="419.6" y="425.3" font-size="5.4" text-anchor="middle" textLength="10.6" lengthAdjust="spacingAndGlyphs">Date</text>
<text transform="translate(286.8 365) rotate(-90)" font-size="5.2" text-anchor="middle" textLength="27" lengthAdjust="spacingAndGlyphs">θ(cm3/cm3)</text>
<text x="355.9" y="436.9" font-size="5.5" text-anchor="start" textLength="23.6" lengthAdjust="spacingAndGlyphs">Calibrated</text>
<text x="396.8" y="436.9" font-size="5.5" text-anchor="start" textLength="32.7" lengthAdjust="spacingAndGlyphs">Non-calibrated</text>
<text x="446.8" y="436.9" font-size="5.5" text-anchor="start" textLength="33.1" lengthAdjust="spacingAndGlyphs">Measurements</text>
</g>
</svg>
</body></html>
